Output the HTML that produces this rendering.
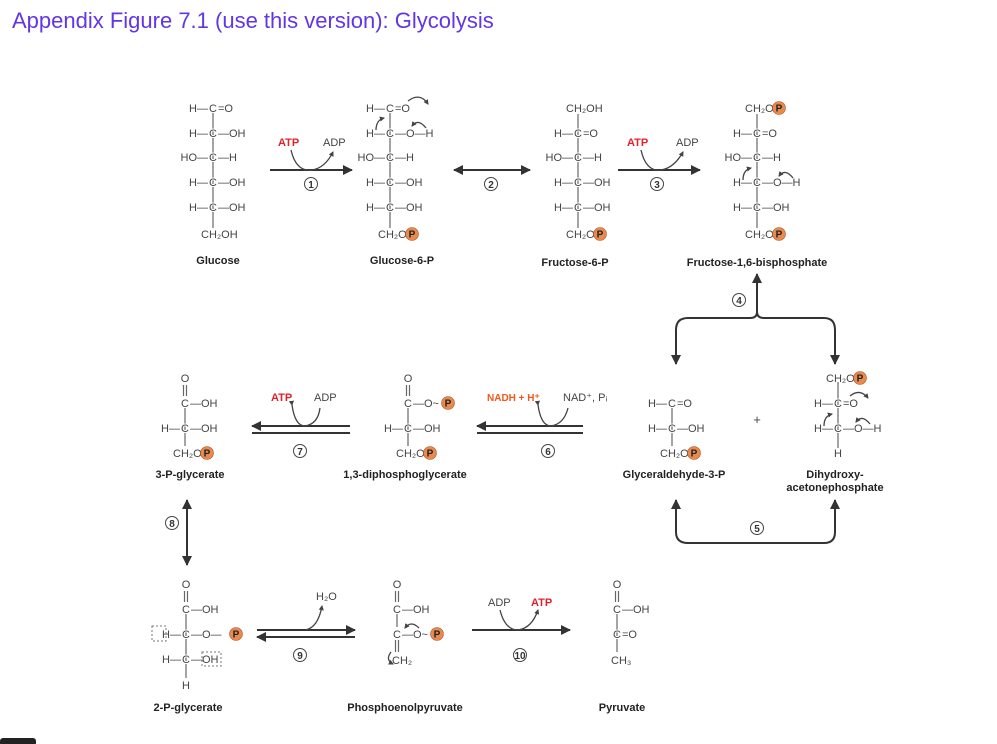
<!DOCTYPE html>
<html><head><meta charset="utf-8"><style>
body{margin:0;background:#fff;width:997px;height:744px;overflow:hidden}
svg{display:block}
.t{font-family:"Liberation Sans",sans-serif;}
.m{font-family:"Liberation Sans",sans-serif;font-size:11px;fill:#444;stroke:#fff;stroke-width:2;paint-order:stroke}
.l{font-family:"Liberation Sans",sans-serif;font-size:11px;font-weight:bold;fill:#222;text-anchor:middle}
.bb{stroke:#666;stroke-width:1.2}
.ar{stroke:#333;stroke-width:2;fill:none}
.cv{stroke:#444;stroke-width:1.3;fill:none}
.red{fill:#e0202a;font-weight:bold;font-size:11px;font-family:"Liberation Sans",sans-serif}
.adp{fill:#444;font-size:11px;font-family:"Liberation Sans",sans-serif}
.pc{fill:#e8894f;stroke:#a85a2a;stroke-width:.6}
.pt{font-family:"Liberation Sans",sans-serif;font-size:10px;font-weight:bold;fill:#222;text-anchor:middle}
.cn{fill:#fff;stroke:#444;stroke-width:1}
.cnt{font-family:"Liberation Sans",sans-serif;font-size:10px;font-weight:bold;fill:#333;text-anchor:middle}
</style></head><body>
<svg width="997" height="744" viewBox="0 0 997 744" xmlns="http://www.w3.org/2000/svg">
<defs>
<marker id="a" viewBox="0 0 10 10" refX="9" refY="5" markerWidth="5" markerHeight="5" orient="auto-start-reverse"><path d="M0,0L10,5L0,10z" fill="#333"/></marker>
<marker id="s" viewBox="0 0 10 10" refX="8" refY="5" markerWidth="4" markerHeight="4" orient="auto"><path d="M0,0L10,5L0,10z" fill="#444"/></marker>
<symbol id="P" overflow="visible"><circle class="pc" cx="0" cy="0" r="6.5"/><text class="pt" x="0" y="3.5">P</text></symbol>
</defs>
<text class="t" x="12" y="28" font-size="22" fill="#6236e6">Appendix Figure 7.1 (use this version): Glycolysis</text>

<!-- Glucose -->
<g transform="translate(213,0)">
<line class="bb" x1="0" y1="110" x2="0" y2="228"/>
<text class="m" x="-5" y="112" text-anchor="end">H—</text><text class="m" x="0" y="112" text-anchor="middle">C</text><text class="m" x="5" y="112">=O</text>
<text class="m" x="-5" y="137" text-anchor="end">H—</text><text class="m" x="0" y="137" text-anchor="middle">C</text><text class="m" x="5" y="137">—OH</text>
<text class="m" x="-5" y="161" text-anchor="end">HO—</text><text class="m" x="0" y="161" text-anchor="middle">C</text><text class="m" x="5" y="161">—H</text>
<text class="m" x="-5" y="186" text-anchor="end">H—</text><text class="m" x="0" y="186" text-anchor="middle">C</text><text class="m" x="5" y="186">—OH</text>
<text class="m" x="-5" y="211" text-anchor="end">H—</text><text class="m" x="0" y="211" text-anchor="middle">C</text><text class="m" x="5" y="211">—OH</text>
<text class="m" x="-12" y="238">CH₂OH</text>
<text class="l" x="5" y="264">Glucose</text>
</g>
<line class="ar" x1="270" y1="170" x2="352" y2="170" marker-end="url(#a)"/>
<text class="red" x="278" y="146">ATP</text><text class="adp" x="323" y="146">ADP</text>
<path class="cv" d="M291,150 Q296,172 312,170 Q325,168 333,152" marker-end="url(#s)"/>
<circle class="cn" cx="311" cy="184" r="6.5"/><text class="cnt" x="311" y="188">1</text>

<!-- G6P -->
<g transform="translate(390,0)">
<line class="bb" x1="0" y1="110" x2="0" y2="228"/>
<text class="m" x="-5" y="112" text-anchor="end">H—</text><text class="m" x="0" y="112" text-anchor="middle">C</text><text class="m" x="5" y="112">=O</text>
<text class="m" x="-5" y="137" text-anchor="end">H—</text><text class="m" x="0" y="137" text-anchor="middle">C</text><text class="m" x="5" y="137">—O—H</text>
<text class="m" x="-5" y="161" text-anchor="end">HO—</text><text class="m" x="0" y="161" text-anchor="middle">C</text><text class="m" x="5" y="161">—H</text>
<text class="m" x="-5" y="186" text-anchor="end">H—</text><text class="m" x="0" y="186" text-anchor="middle">C</text><text class="m" x="5" y="186">—OH</text>
<text class="m" x="-5" y="211" text-anchor="end">H—</text><text class="m" x="0" y="211" text-anchor="middle">C</text><text class="m" x="5" y="211">—OH</text>
<text class="m" x="-12" y="238">CH₂O</text><use href="#P" x="22" y="234"/>
<path class="cv" d="M18,101 Q30,92 38,104" marker-end="url(#s)"/>
<path class="cv" d="M-14,130 Q-14,120 -6,118" marker-end="url(#s)"/>
<path class="cv" d="M36,128 Q28,118 22,126" marker-end="url(#s)"/>
<text class="l" x="12" y="264">Glucose-6-P</text>
</g>
<line class="ar" x1="454" y1="170" x2="530" y2="170" marker-start="url(#a)" marker-end="url(#a)"/>
<circle class="cn" cx="491" cy="184" r="6.5"/><text class="cnt" x="491" y="188">2</text>

<!-- F6P -->
<g transform="translate(578,0)">
<line class="bb" x1="0" y1="114" x2="0" y2="228"/>
<text class="m" x="-12" y="112">CH₂OH</text>
<text class="m" x="-5" y="137" text-anchor="end">H—</text><text class="m" x="0" y="137" text-anchor="middle">C</text><text class="m" x="5" y="137">=O</text>
<text class="m" x="-5" y="161" text-anchor="end">HO—</text><text class="m" x="0" y="161" text-anchor="middle">C</text><text class="m" x="5" y="161">—H</text>
<text class="m" x="-5" y="186" text-anchor="end">H—</text><text class="m" x="0" y="186" text-anchor="middle">C</text><text class="m" x="5" y="186">—OH</text>
<text class="m" x="-5" y="211" text-anchor="end">H—</text><text class="m" x="0" y="211" text-anchor="middle">C</text><text class="m" x="5" y="211">—OH</text>
<text class="m" x="-12" y="238">CH₂O</text><use href="#P" x="22" y="234"/>
<text class="l" x="-3" y="266">Fructose-6-P</text>
</g>
<line class="ar" x1="618" y1="170" x2="700" y2="170" marker-end="url(#a)"/>
<text class="red" x="627" y="146">ATP</text><text class="adp" x="676" y="146">ADP</text>
<path class="cv" d="M641,150 Q646,172 661,170 Q674,168 683,152" marker-end="url(#s)"/>
<circle class="cn" cx="657" cy="184" r="6.5"/><text class="cnt" x="657" y="188">3</text>

<!-- F16BP -->
<g transform="translate(757,0)">
<line class="bb" x1="0" y1="114" x2="0" y2="228"/>
<text class="m" x="-12" y="112">CH₂O</text><use href="#P" x="22" y="108"/>
<text class="m" x="-5" y="137" text-anchor="end">H—</text><text class="m" x="0" y="137" text-anchor="middle">C</text><text class="m" x="5" y="137">=O</text>
<text class="m" x="-5" y="161" text-anchor="end">HO—</text><text class="m" x="0" y="161" text-anchor="middle">C</text><text class="m" x="5" y="161">—H</text>
<text class="m" x="-5" y="186" text-anchor="end">H—</text><text class="m" x="0" y="186" text-anchor="middle">C</text><text class="m" x="5" y="186">—O—H</text>
<text class="m" x="-5" y="211" text-anchor="end">H—</text><text class="m" x="0" y="211" text-anchor="middle">C</text><text class="m" x="5" y="211">—OH</text>
<text class="m" x="-12" y="238">CH₂O</text><use href="#P" x="22" y="234"/>
<path class="cv" d="M-14,180 Q-14,170 -6,168" marker-end="url(#s)"/>
<path class="cv" d="M36,178 Q28,168 22,176" marker-end="url(#s)"/>
<text class="l" x="0" y="266">Fructose-1,6-bisphosphate</text>
</g>

<line class="ar" x1="757" y1="315" x2="757" y2="274" marker-end="url(#a)"/>
<path class="ar" d="M757,312 Q757,318 750,318 L688,318 Q676,318 676,330 L676,364" marker-end="url(#a)"/>
<path class="ar" d="M757,312 Q757,318 764,318 L824,318 Q835,318 835,330 L835,364" marker-end="url(#a)"/>
<circle class="cn" cx="739" cy="300" r="6.5"/><text class="cnt" x="739" y="304">4</text>

<!-- 3-P-glycerate -->
<g transform="translate(185,0)">
<text class="m" x="0" y="382" text-anchor="middle">O</text>
<line class="bb" x1="-1.5" y1="385" x2="-1.5" y2="396"/><line class="bb" x1="1.5" y1="385" x2="1.5" y2="396"/>
<line class="bb" x1="0" y1="408" x2="0" y2="446"/>
<text class="m" x="0" y="407" text-anchor="middle">C</text><text class="m" x="5" y="407">—OH</text>
<text class="m" x="-5" y="432" text-anchor="end">H—</text><text class="m" x="0" y="432" text-anchor="middle">C</text><text class="m" x="5" y="432">—OH</text>
<text class="m" x="-12" y="457">CH₂O</text><use href="#P" x="22" y="453"/>
<text class="l" x="5" y="478">3-P-glycerate</text>
</g>
<line class="ar" x1="350" y1="426" x2="252" y2="426" marker-end="url(#a)"/>
<line class="ar" x1="252" y1="433" x2="350" y2="433"/>
<text class="red" x="271" y="401">ATP</text><text class="adp" x="314" y="401">ADP</text>
<path class="cv" d="M292,405 Q295,426 305,426 Q318,424 320,408" marker-start="url(#s)"/>
<circle class="cn" cx="300" cy="451" r="6.5"/><text class="cnt" x="300" y="455">7</text>

<!-- 1,3-BPG -->
<g transform="translate(408,0)">
<text class="m" x="0" y="382" text-anchor="middle">O</text>
<line class="bb" x1="-1.5" y1="385" x2="-1.5" y2="396"/><line class="bb" x1="1.5" y1="385" x2="1.5" y2="396"/>
<line class="bb" x1="0" y1="408" x2="0" y2="446"/>
<text class="m" x="0" y="407" text-anchor="middle">C</text><text class="m" x="5" y="407">—O~</text><use href="#P" x="40" y="403"/>
<text class="m" x="-5" y="432" text-anchor="end">H—</text><text class="m" x="0" y="432" text-anchor="middle">C</text><text class="m" x="5" y="432">—OH</text>
<text class="m" x="-12" y="457">CH₂O</text><use href="#P" x="22" y="453"/>
<text class="l" x="-3" y="478">1,3-diphosphoglycerate</text>
</g>
<line class="ar" x1="583" y1="426" x2="477" y2="426" marker-end="url(#a)"/>
<line class="ar" x1="477" y1="433" x2="583" y2="433"/>
<text x="487" y="401" class="t" font-size="10" font-weight="bold" fill="#f05a1a">NADH + H⁺</text>
<text class="adp" x="563" y="401" font-size="10">NAD⁺, Pᵢ</text>
<path class="cv" d="M538,405 Q541,426 551,426 Q564,424 568,408" marker-start="url(#s)"/>
<circle class="cn" cx="548" cy="451" r="6.5"/><text class="cnt" x="548" y="455">6</text>

<!-- GAP -->
<g transform="translate(672,0)">
<line class="bb" x1="0" y1="408" x2="0" y2="446"/>
<text class="m" x="-5" y="407" text-anchor="end">H—</text><text class="m" x="0" y="407" text-anchor="middle">C</text><text class="m" x="5" y="407">=O</text>
<text class="m" x="-5" y="432" text-anchor="end">H—</text><text class="m" x="0" y="432" text-anchor="middle">C</text><text class="m" x="5" y="432">—OH</text>
<text class="m" x="-12" y="457">CH₂O</text><use href="#P" x="22" y="453"/>
<text class="l" x="2" y="478" font-size="10">Glyceraldehyde-3-P</text>
</g>
<text class="t" x="757" y="424" font-size="13" fill="#444" text-anchor="middle">+</text>

<!-- DHAP -->
<g transform="translate(838,0)">
<line class="bb" x1="0" y1="382" x2="0" y2="448"/>
<text class="m" x="-12" y="382">CH₂O</text><use href="#P" x="22" y="378"/>
<text class="m" x="-5" y="407" text-anchor="end">H—</text><text class="m" x="0" y="407" text-anchor="middle">C</text><text class="m" x="5" y="407">=O</text>
<text class="m" x="-5" y="432" text-anchor="end">H—</text><text class="m" x="0" y="432" text-anchor="middle">C</text><text class="m" x="5" y="432">—O—H</text>
<text class="m" x="0" y="457" text-anchor="middle">H</text>
<path class="cv" d="M-14,426 Q-14,416 -6,414" marker-end="url(#s)"/>
<path class="cv" d="M32,424 Q24,414 18,422" marker-end="url(#s)"/>
<path class="cv" d="M12,396 Q22,388 30,398" marker-end="url(#s)"/>
<text class="l" x="-3" y="478" font-size="10.5">Dihydroxy-</text>
<text class="l" x="-3" y="491" font-size="10.5">acetonephosphate</text>
</g>

<path class="ar" d="M676,500 L676,532 Q676,543 688,543 L824,543 Q835,543 835,532 L835,500" marker-start="url(#a)" marker-end="url(#a)"/>
<circle class="cn" cx="757" cy="528" r="6.5"/><text class="cnt" x="757" y="532">5</text>

<line class="ar" x1="187" y1="500" x2="187" y2="565" marker-start="url(#a)" marker-end="url(#a)"/>
<circle class="cn" cx="172" cy="523" r="6.5"/><text class="cnt" x="172" y="527">8</text>

<!-- 2PG -->
<g transform="translate(186,0)">
<text class="m" x="0" y="588" text-anchor="middle">O</text>
<line class="bb" x1="-1.5" y1="591" x2="-1.5" y2="602"/><line class="bb" x1="1.5" y1="591" x2="1.5" y2="602"/>
<line class="bb" x1="0" y1="614" x2="0" y2="678"/>
<text class="m" x="0" y="613" text-anchor="middle">C</text><text class="m" x="5" y="613">—OH</text>
<text class="m" x="-5" y="638" text-anchor="end">H—</text><text class="m" x="0" y="638" text-anchor="middle">C</text><text class="m" x="5" y="638">—O—</text><use href="#P" x="50" y="634"/>
<text class="m" x="-5" y="663" text-anchor="end">H—</text><text class="m" x="0" y="663" text-anchor="middle">C</text><text class="m" x="5" y="663">—OH</text>
<text class="m" x="0" y="689" text-anchor="middle">H</text>
<rect x="-34" y="626" width="14" height="15" fill="none" stroke="#777" stroke-dasharray="2,2"/>
<rect x="16" y="652" width="19" height="14" fill="none" stroke="#777" stroke-dasharray="2,2"/>
<text class="l" x="2" y="711">2-P-glycerate</text>
</g>
<line class="ar" x1="257" y1="630" x2="355" y2="630" marker-end="url(#a)"/>
<line class="ar" x1="355" y1="637" x2="257" y2="637" marker-end="url(#a)"/>
<text class="adp" x="316" y="600">H₂O</text>
<path class="cv" d="M305,630 Q318,628 322,606" marker-end="url(#s)"/>
<circle class="cn" cx="300" cy="655" r="6.5"/><text class="cnt" x="300" y="659">9</text>

<!-- PEP -->
<g transform="translate(397,0)">
<text class="m" x="0" y="588" text-anchor="middle">O</text>
<line class="bb" x1="-1.5" y1="591" x2="-1.5" y2="602"/><line class="bb" x1="1.5" y1="591" x2="1.5" y2="602"/>
<line class="bb" x1="0" y1="614" x2="0" y2="627"/>
<line class="bb" x1="-1.5" y1="640" x2="-1.5" y2="652"/><line class="bb" x1="1.5" y1="640" x2="1.5" y2="652"/>
<text class="m" x="0" y="613" text-anchor="middle">C</text><text class="m" x="5" y="613">—OH</text>
<text class="m" x="0" y="638" text-anchor="middle">C</text><text class="m" x="5" y="638">—O~</text><use href="#P" x="40" y="634"/>
<text class="m" x="-5" y="664">CH₂</text>
<path class="cv" d="M-6,652 Q-12,660 -4,664" marker-end="url(#s)"/>
<path class="cv" d="M22,628 Q14,620 8,628" marker-end="url(#s)"/>
<text class="l" x="8" y="711">Phosphoenolpyruvate</text>
</g>
<line class="ar" x1="472" y1="630" x2="570" y2="630" marker-end="url(#a)"/>
<text class="adp" x="488" y="606">ADP</text><text class="red" x="531" y="606">ATP</text>
<path class="cv" d="M500,610 Q505,630 518,630 Q532,628 538,610" marker-end="url(#s)"/>
<circle class="cn" cx="520" cy="655" r="6.5"/><text class="cnt" x="520" y="659" font-size="9">10</text>

<!-- Pyruvate -->
<g transform="translate(617,0)">
<text class="m" x="0" y="588" text-anchor="middle">O</text>
<line class="bb" x1="-1.5" y1="591" x2="-1.5" y2="602"/><line class="bb" x1="1.5" y1="591" x2="1.5" y2="602"/>
<line class="bb" x1="0" y1="614" x2="0" y2="652"/>
<text class="m" x="0" y="613" text-anchor="middle">C</text><text class="m" x="5" y="613">—OH</text>
<text class="m" x="0" y="638" text-anchor="middle">C</text><text class="m" x="5" y="638">=O</text>
<text class="m" x="-6" y="664">CH₃</text>
<text class="l" x="5" y="711">Pyruvate</text>
</g>
<rect x="0" y="738" width="36" height="8" rx="3" fill="#222"/>
</svg>
</body></html>
